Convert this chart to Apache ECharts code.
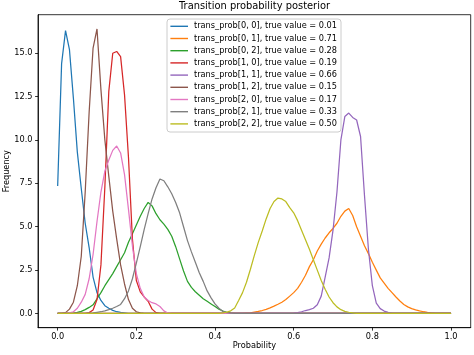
<!DOCTYPE html>
<html>
<head>
<meta charset="utf-8">
<script src="https://cdn.jsdelivr.net/npm/echarts@6/dist/echarts.min.js"></script>
<style>html,body{margin:0;padding:0;background:#fff}#c{width:474px;height:355px}</style>
</head>
<body>
<div id="c"></div>
<script>
// x grid: 0.00 .. 1.00 in steps of 0.01 (101 bins)
const nBins = 101;
const xTicks = [0, 0.2, 0.4, 0.6, 0.8, 1.0];
const yTicks = [0, 2.5, 5, 7.5, 10, 12.5, 15];
const seriesIdx = ['0, 0', '0, 1', '0, 2', '1, 0', '1, 1', '1, 2', '2, 0', '2, 1', '2, 2'];
const trueValues = ['0.01', '0.71', '0.28', '0.19', '0.66', '0.15', '0.17', '0.33', '0.50'];
const colors = ['#1f77b4', '#ff7f0e', '#2ca02c', '#d62728', '#9467bd', '#8c564b', '#e377c2', '#7f7f7f', '#bcbd22'];

// each curve: first bin index holding a non-zero value, then the values
const start00 = 0;
const vals00 = [7.35, 14.4, 16.3, 15.2, 12.4, 9.3, 7.2, 5.2, 3.8, 2.1, 1.2, 0.75, 0.45, 0.3, 0.18, 0.1, 0.06, 0.03];
const start01 = 48;
const vals01 = [0.02, 0.04, 0.08, 0.12, 0.17, 0.24, 0.32, 0.42, 0.53, 0.65, 0.8, 1.0, 1.2, 1.45, 1.8, 2.2, 2.7, 3.1, 3.6, 4.0, 4.35, 4.65, 4.9, 5.2, 5.6, 5.9, 6.05, 5.65, 5.0, 4.45, 3.9, 3.45, 2.95, 2.5, 2.05, 1.75, 1.45, 1.2, 0.95, 0.72, 0.52, 0.38, 0.28, 0.21, 0.15, 0.1, 0.06, 0.03, 0.01];
const start02 = 4;
const vals02 = [0.02, 0.06, 0.12, 0.22, 0.35, 0.5, 0.85, 1.2, 1.6, 1.95, 2.3, 2.7, 3.1, 3.5, 4.1, 4.6, 5.1, 5.6, 6.05, 6.4, 6.2, 5.75, 5.4, 5.15, 4.85, 4.45, 3.85, 3.15, 2.45, 1.85, 1.5, 1.25, 1.05, 0.85, 0.7, 0.55, 0.4, 0.25, 0.14, 0.07, 0.03, 0.01];
const start10 = 8;
const vals10 = [0.05, 0.2, 0.8, 2.8, 7.3, 12.8, 15.0, 15.1, 14.8, 12.6, 9.0, 4.3, 1.9, 1.25, 0.95, 0.7, 0.25, 0.05];
const start11 = 60;
const vals11 = [0.02, 0.05, 0.1, 0.17, 0.22, 0.3, 0.5, 1.0, 2.1, 3.2, 4.8, 7.0, 10.0, 11.35, 11.55, 11.3, 11.15, 10.2, 6.8, 3.7, 1.6, 0.6, 0.28, 0.14, 0.06, 0.02];
const start12 = 2;
const vals12 = [0.05, 0.25, 0.65, 1.6, 3.3, 7.0, 11.6, 15.3, 16.4, 12.9, 10.0, 7.9, 5.9, 4.3, 2.8, 1.7, 0.8, 0.3, 0.1, 0.03];
const start20 = 3;
const vals20 = [0.03, 0.1, 0.3, 0.65, 1.1, 2.0, 3.4, 5.3, 7.0, 8.2, 8.85, 9.4, 9.65, 9.25, 8.0, 6.0, 3.9, 2.3, 1.45, 0.95, 0.75, 0.62, 0.55, 0.4, 0.15, 0.03];
const start21 = 8;
const vals21 = [0.02, 0.04, 0.07, 0.1, 0.15, 0.22, 0.3, 0.4, 0.52, 0.85, 1.3, 2.0, 2.9, 3.85, 4.85, 5.75, 6.6, 7.25, 7.75, 7.65, 7.3, 6.9, 6.4, 5.8, 5.0, 4.2, 3.55, 2.95, 2.35, 1.85, 1.3, 0.9, 0.55, 0.3, 0.12, 0.05, 0.02];
const start22 = 42;
const vals22 = [0.03, 0.08, 0.15, 0.32, 0.75, 1.2, 1.8, 2.55, 3.35, 4.1, 4.75, 5.45, 6.05, 6.45, 6.65, 6.6, 6.45, 6.1, 5.8, 5.35, 4.8, 4.25, 3.7, 3.1, 2.5, 1.9, 1.4, 0.95, 0.62, 0.38, 0.22, 0.12, 0.07, 0.03];

const starts = [start00, start01, start02, start10, start11, start12, start20, start21, start22];
const values = [vals00, vals01, vals02, vals10, vals11, vals12, vals20, vals21, vals22];

function curve(start, vals) {
  const out = [];
  for (let i = 0; i < nBins; i++) {
    const k = i - start;
    const y = (k >= 0 && k < vals.length) ? vals[k] : 0;
    out.push([i / 100, y]);
  }
  return out;
}

const FONT = 'DejaVu Sans';
const names = seriesIdx.map((s, i) => 'trans_prob[' + s + '], true value = ' + trueValues[i]);
const series = names.map((n, i) => ({
  name: n,
  type: 'line',
  data: curve(starts[i], values[i]),
  showSymbol: false,
  symbol: 'none',
  color: colors[i],
  lineStyle: { color: colors[i], width: 1.25 },
  emphasis: { disabled: true },
  animation: false
}));

const chart = echarts.init(document.getElementById('c'), null, { renderer: 'canvas' });
chart.setOption({
  backgroundColor: '#fff',
  animation: false,
  title: {
    text: 'Transition probability posterior',
    left: 254.5, top: 1.5, textAlign: 'center', padding: 0,
    textStyle: { fontFamily: FONT, fontSize: 9.9, fontWeight: 'normal', color: '#000' }
  },
  legend: {
    data: names,
    orient: 'vertical',
    left: 167, top: 19,
    icon: 'rect', itemWidth: 17.6, itemHeight: 1.4, itemGap: 3.2,
    padding: [2.8, 4, 3.6, 3.4],
    backgroundColor: 'rgba(255,255,255,0.8)',
    borderColor: '#cccccc', borderWidth: 1, borderRadius: 3,
    itemStyle: { borderWidth: 0 },
    textStyle: { fontFamily: FONT, fontSize: 8.2, color: '#000', lineHeight: 9, padding: [0, 0, 0, 1] },
    selectedMode: false
  },
  grid: { left: 38, top: 14.7, right: 3.3, bottom: 27.3, show: true, borderColor: '#000', borderWidth: 0.8, containLabel: false, outerBoundsMode: 'none' },
  xAxis: {
    type: 'value', min: -0.05, max: 1.05,
    name: 'Probability', nameLocation: 'middle', nameGap: 14.5, nameMoveOverlap: false,
    nameTextStyle: { fontFamily: FONT, fontSize: 8.2, color: '#000' },
    axisLine: { show: true, onZero: false, lineStyle: { color: '#000', width: 0.8 } },
    axisTick: { show: true, length: 2.9, inside: false, customValues: xTicks, lineStyle: { color: '#000', width: 0.8 } },
    axisLabel: { customValues: xTicks, margin: 5.5, fontFamily: FONT, fontSize: 8.2, color: '#000', formatter: v => v.toFixed(1) },
    splitLine: { show: false }
  },
  yAxis: {
    type: 'value', min: -0.82, max: 17.22,
    name: 'Frequency', nameLocation: 'middle', nameGap: 27, nameMoveOverlap: false,
    nameTextStyle: { fontFamily: FONT, fontSize: 8.2, color: '#000' },
    axisLine: { show: true, onZero: false, lineStyle: { color: '#000', width: 0.8 } },
    axisTick: { show: true, length: 2.9, inside: false, customValues: yTicks, lineStyle: { color: '#000', width: 0.8 } },
    axisLabel: { customValues: yTicks, margin: 5.5, fontFamily: FONT, fontSize: 8.2, color: '#000', formatter: v => v.toFixed(1) },
    splitLine: { show: false }
  },
  series: series
});
</script>
</body>
</html>
